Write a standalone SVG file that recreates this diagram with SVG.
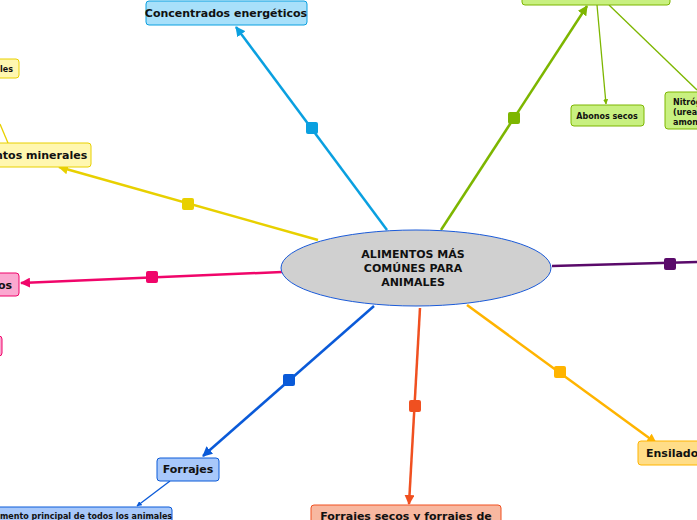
<svg xmlns="http://www.w3.org/2000/svg" width="697" height="520" viewBox="0 0 697 520">
<style>
text{font-family:Verdana,"DejaVu Sans",sans-serif;font-weight:bold;fill:#111}
.b{font-size:11px}.s{font-size:8px}
.c path,.c line{fill:none}
</style>
<defs>
<marker id="a" viewBox="0 0 10 10" refX="9" refY="5" markerWidth="4" markerHeight="4" orient="auto-start-reverse" markerUnits="strokeWidth"><path d="M0,0L10,5L0,10z" fill="context-stroke"/></marker>
</defs>
<rect width="697" height="520" fill="#fff"/>
<g class="c">
<line x1="387" y1="230" x2="236" y2="27" stroke="#0aa0e0" stroke-width="2.5" marker-end="url(#a)"/>
<rect x="306" y="122" width="12" height="12" rx="2" fill="#0aa0e0"/>
<line x1="441" y1="230" x2="587" y2="6" stroke="#7db600" stroke-width="2.5" marker-end="url(#a)"/>
<rect x="508" y="112" width="12" height="12" rx="2" fill="#7db600"/>
<line x1="597" y1="5" x2="606" y2="104" stroke="#7db600" stroke-width="1.3" marker-end="url(#a)"/>
<line x1="609" y1="5" x2="697" y2="90" stroke="#7db600" stroke-width="1.3"/>
<line x1="318" y1="240" x2="59" y2="167" stroke="#e8d000" stroke-width="2.5" marker-end="url(#a)"/>
<rect x="182" y="198" width="12" height="12" rx="2" fill="#e8d000"/>
<line x1="8" y1="143" x2="0" y2="124" stroke="#e8d000" stroke-width="1.3"/>
<line x1="282" y1="272" x2="21" y2="283" stroke="#f0056a" stroke-width="2.5" marker-end="url(#a)"/>
<rect x="146" y="271" width="12" height="12" rx="2" fill="#f0056a"/>
<line x1="552" y1="266" x2="697" y2="262" stroke="#5a0a6a" stroke-width="2.5"/>
<rect x="664" y="258" width="12" height="12" rx="2" fill="#5a0a6a"/>
<line x1="467" y1="305" x2="656" y2="443" stroke="#ffb400" stroke-width="2.5" marker-end="url(#a)"/>
<rect x="554" y="366" width="12" height="12" rx="2" fill="#ffb400"/>
<line x1="420" y1="308" x2="409" y2="504" stroke="#f05020" stroke-width="2.5" marker-end="url(#a)"/>
<rect x="409" y="400" width="12" height="12" rx="2" fill="#f05020"/>
<line x1="374" y1="306" x2="203" y2="456" stroke="#0a5ad8" stroke-width="2.5" marker-end="url(#a)"/>
<rect x="283" y="374" width="12" height="12" rx="2" fill="#0a5ad8"/>
<line x1="170" y1="481" x2="137" y2="506" stroke="#0a5ad8" stroke-width="1.3" marker-end="url(#a)"/>
</g>
<g id="center"><ellipse cx="416" cy="268" rx="135" ry="38" fill="#d0d0d0" stroke="#1a5ad8"/>
<text class="b" text-anchor="middle" x="413" y="258">ALIMENTOS MÁS</text>
<text class="b" text-anchor="middle" x="413" y="272">COMÚNES PARA</text>
<text class="b" text-anchor="middle" x="413" y="286">ANIMALES</text></g>
<g id="n1"><rect x="146" y="1" width="161" height="24" rx="3" fill="#a8e0fa" stroke="#0aa0e0"/><text class="b" x="226" y="17" text-anchor="middle">Concentrados energéticos</text></g>
<g id="n2"><rect x="522" y="-10" width="148" height="15" rx="3" fill="#c8f080" stroke="#7db600"/></g>
<g id="n3"><rect x="571" y="105" width="73" height="21" rx="3" fill="#c8f080" stroke="#7db600"/><text class="s" x="607" y="119" text-anchor="middle">Abonos secos</text></g>
<g id="n4"><rect x="665" y="92" width="40" height="37" rx="3" fill="#c8f080" stroke="#7db600"/><text class="s" x="673" y="105">Nitróg</text><text class="s" x="673" y="115">(urea,</text><text class="s" x="673" y="125">amoni</text></g>
<g id="n5"><rect x="-10" y="59" width="29" height="19" rx="3" fill="#fff7b0" stroke="#e8d000"/><text class="s" x="0" y="72">les</text></g>
<g id="n6"><rect x="-20" y="143" width="111" height="24" rx="3" fill="#fff7b0" stroke="#e8d000"/><text class="b" x="-5" y="159">ntos minerales</text></g>
<g id="n7"><rect x="-20" y="273" width="39" height="23" rx="3" fill="#fba8d0" stroke="#f0056a"/><text class="b" x="-2" y="289">os</text></g>
<g id="n8"><rect x="-20" y="336" width="22" height="20" rx="3" fill="#fba8d0" stroke="#f0056a"/></g>
<g id="n9"><rect x="638" y="441" width="70" height="24" rx="3" fill="#ffdd88" stroke="#ffb400"/><text class="b" x="646" y="457">Ensilados</text></g>
<g id="n10"><rect x="311" y="505" width="190" height="30" rx="3" fill="#f8b8a0" stroke="#f05020"/><text class="b" x="406" y="520" text-anchor="middle">Forrajes secos y forrajes de</text></g>
<g id="n11"><rect x="157" y="458" width="62" height="23" rx="3" fill="#a8c8fa" stroke="#0a5ad8"/><text class="b" x="188" y="473" text-anchor="middle">Forrajes</text></g>
<g id="n12"><rect x="-20" y="507" width="192" height="25" rx="3" fill="#a8c8fa" stroke="#0a5ad8"/><text class="s" x="0" y="519">mento principal de todos los animales</text></g>
</svg>
